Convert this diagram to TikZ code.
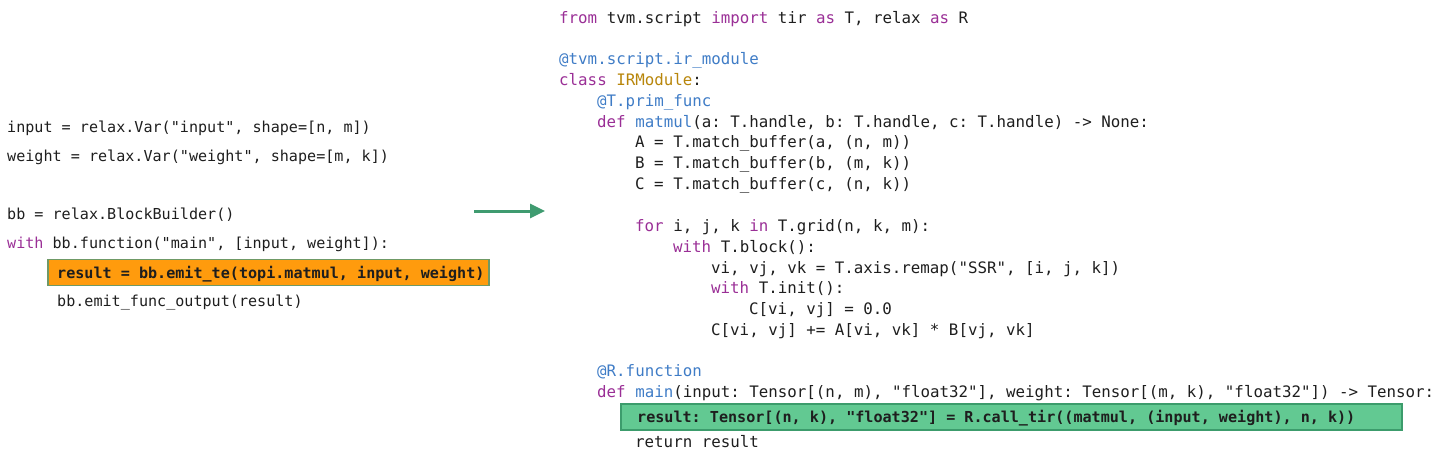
\documentclass[tikz,border=0pt]{standalone}
\usepackage{fontspec}
\setmonofont{DejaVu Sans Mono}
\usetikzlibrary{arrows.meta}
\definecolor{kwpurple}{HTML}{9A2F96}
\definecolor{decblue}{HTML}{3F7CC6}
\definecolor{clsgold}{HTML}{B8860B}
\definecolor{codeblack}{HTML}{1E1E1E}
\definecolor{boxgreen}{HTML}{62C992}
\definecolor{boxgreenline}{HTML}{3C9C6C}
\definecolor{boxorange}{HTML}{FF9B0D}
\definecolor{boxorangeline}{HTML}{6F9966}
\definecolor{arrowgreen}{HTML}{3F9B70}
\newcommand{\kw}[1]{\textcolor{kwpurple}{#1}}
\newcommand{\dec}[1]{\textcolor{decblue}{#1}}
\newcommand{\cls}[1]{\textcolor{clsgold}{#1}}

\begin{document}
\begin{tikzpicture}[x=1pt, y=-1pt,
    leftcode/.style={anchor=base west, inner sep=0pt, text=codeblack,
        font=\ttfamily\fontsize{15.1}{18}\selectfont},
    rightcode/.style={anchor=base west, inner sep=0pt, text=codeblack,
        font=\ttfamily\fontsize{15.8}{19}\selectfont},
    boldcode/.style={leftcode, font=\ttfamily\bfseries\fontsize{15.1}{18}\selectfont},
    hlbox/.style={draw, line width=1.5pt, inner sep=0pt}]
    \useasboundingbox (0,0) rectangle (1440,456);

    % left: block builder
    \node[leftcode] (inputvar) at (7,132) {input = relax.Var("input", shape=[n, m])};
    \node[leftcode] (weightvar) at (7,161) {weight = relax.Var("weight", shape=[m, k])};
    \node[leftcode] (bbuilder) at (7,219) {bb = relax.BlockBuilder()};
    \node[leftcode] (withfunc) at (7,248) {\kw{with} bb.function("main", [input, weight]):};
        \node[hlbox, fill=boxorange, draw=boxorangeline, minimum width=441pt, minimum height=26pt]
            (emitbox) at (268.5,272.5) {};
        \node[boldcode] (emitte) at (57,278) {result = bb.emit\_te(topi.matmul, input, weight)};
        \node[leftcode] (emitout) at (57,306) {bb.emit\_func\_output(result)};

    \coordinate (arrowtail) at (474,211);
    \coordinate (arrowtip) at (545,211);
    \draw[arrowgreen, line width=3pt, -{Triangle[length=15pt, width=14pt]}] (arrowtail) -- (arrowtip);

    % right: tvm script
    \node[rightcode] (imports) at (559,23) {\kw{from} tvm.script \kw{import} tir \kw{as} T, relax \kw{as} R};
    \node[rightcode] (irdec) at (559,64) {\dec{@tvm.script.ir\_module}};
    \node[rightcode] (irclass) at (559,85) {\kw{class} \cls{IRModule}:};
        \node[rightcode] (primdec) at (597,106) {\dec{@T.prim\_func}};
        \node[rightcode] (matmuldef) at (597,127) {\kw{def} \dec{matmul}(a: T.handle, b: T.handle, c: T.handle) -> None:};
            \node[rightcode] (bufa) at (635,147) {A = T.match\_buffer(a, (n, m))};
            \node[rightcode] (bufb) at (635,168) {B = T.match\_buffer(b, (m, k))};
            \node[rightcode] (bufc) at (635,189) {C = T.match\_buffer(c, (n, k))};
            \node[rightcode] (forloop) at (635,231) {\kw{for} i, j, k \kw{in} T.grid(n, k, m):};
                \node[rightcode] (withblock) at (673,252) {\kw{with} T.block():};
                    \node[rightcode] (remap) at (711,273) {vi, vj, vk = T.axis.remap("SSR", [i, j, k])};
                    \node[rightcode] (withinit) at (711,293) {\kw{with} T.init():};
                        \node[rightcode] (initc) at (749,314) {C[vi, vj] = 0.0};
                    \node[rightcode] (update) at (711,335) {C[vi, vj] += A[vi, vk] * B[vj, vk]};
        \node[rightcode] (reldec) at (597,376) {\dec{@R.function}};
        \node[rightcode] (maindef) at (597,397) {\kw{def} \dec{main}(input: Tensor[(n, m), "float32"], weight: Tensor[(m, k), "float32"]) -> Tensor:};
            \node[hlbox, fill=boxgreen, draw=boxgreenline, minimum width=781pt, minimum height=26pt]
                (calltirbox) at (1011.5,417) {};
            \node[boldcode] (calltir) at (637,422.5) {result: Tensor[(n, k), "float32"] = R.call\_tir((matmul, (input, weight), n, k))};
            \node[rightcode] (ret) at (635,447) {return result};
\end{tikzpicture}
\end{document}
